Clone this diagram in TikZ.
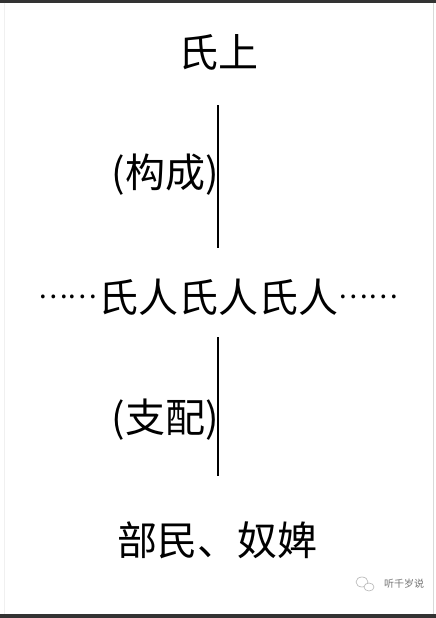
\documentclass[tikz,border=0pt]{standalone}
\usepackage{fontspec}
\newfontfamily\cjk{Noto Sans CJK SC}
\begin{document}
\begin{tikzpicture}[x=1pt,y=-1pt,
  big/.style={font=\cjk\fontsize{40}{44}\selectfont, inner sep=0pt, text=black},
  dots/.style={font=\cjk\fontsize{28}{30}\selectfont, inner sep=0pt, text=black},
  rule/.style={line width=2pt, black},
  band/.style={fill=black!80, draw=none}]
\useasboundingbox (0,0) rectangle (436,618);
\fill[white] (0,0) rectangle (436,618);
\fill[band] (0,0) rectangle (436,3);
\fill[band] (0,614) rectangle (436,618);
\draw[black!15, line width=1pt] (433.5,3) -- (433.5,614);
\draw[black!6, line width=1pt] (4,3) -- (4,614);

\node[big] (top) at (218,52) {氏上};
\coordinate (l1a) at (218,105);
\coordinate (l1b) at (218,248);
\draw[rule] (l1a) -- (l1b);
\node[big, anchor=east] (gou) at (219,175) {(构成)};

\node[big] (mid) at (218,297) {氏人氏人氏人};
\node[dots, anchor=east] (dl) at (mid.west) {……};
\node[dots, anchor=west] (dr) at (mid.east) {……};

\coordinate (l2a) at (218,337);
\coordinate (l2b) at (218,476);
\draw[rule] (l2a) -- (l2b);
\node[big, anchor=east] (zhi) at (219,420) {(支配)};

\node[big] (bot) at (217,540) {部民、奴婢};

% watermark
\draw[black!30, line width=0.6pt] (362,582) ellipse (6 and 5);
\draw[black!30, line width=0.6pt, fill=white] (369,587) ellipse (5 and 4);
\node[font=\cjk\fontsize{10}{12}\selectfont, text=black!55, anchor=west, inner sep=0pt] (wm) at (384,584) {听千岁说};
\end{tikzpicture}
\end{document}
